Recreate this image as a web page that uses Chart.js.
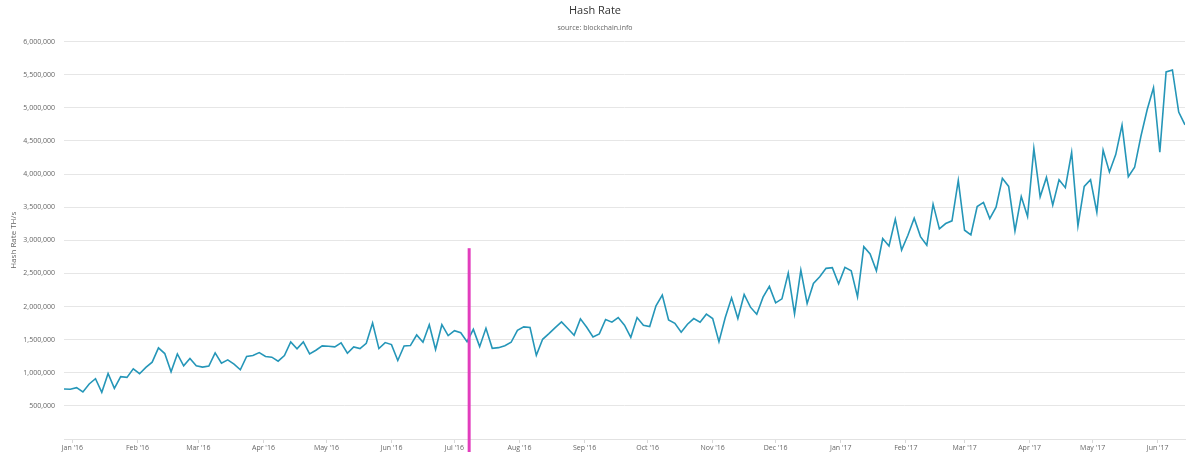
<!DOCTYPE html>
<html>
<head>
<meta charset="utf-8">
<title>Hash Rate</title>
<script src="https://cdn.jsdelivr.net/npm/chart.js@4/dist/chart.umd.min.js"></script>
<style>
  html, body { margin: 0; padding: 0; background: #fff; }
  #wrap { width: 1200px; height: 462px; position: relative; }
</style>
</head>
<body>
<div id="wrap"><canvas id="hashChart"></canvas></div>
<script>
// data: one reading every 3 days from 28 Dec 2015
const startDate = '2015-12-28';
const stepDays = 3;
const hashRate = [
    755000, 750000, 775000, 710000, 830000, 910000, 705000, 990000, 765000, 940000,
    930000, 1060000, 985000, 1080000, 1160000, 1375000, 1290000, 1015000, 1285000, 1105000,
    1215000, 1105000, 1085000, 1100000, 1300000, 1145000, 1195000, 1130000, 1045000, 1245000,
    1260000, 1305000, 1245000, 1235000, 1175000, 1260000, 1465000, 1360000, 1465000, 1285000,
    1340000, 1405000, 1400000, 1390000, 1450000, 1295000, 1390000, 1365000, 1445000, 1750000,
    1365000, 1455000, 1425000, 1185000, 1405000, 1410000, 1570000, 1460000, 1725000, 1350000,
    1725000, 1560000, 1635000, 1605000, 1470000, 1655000, 1394000, 1670000, 1369000, 1379000,
    1409000, 1460000, 1640000, 1692000, 1682000, 1263000, 1505000, 1591000, 1682000, 1768000,
    1667000, 1566000, 1813000, 1687000, 1540000, 1586000, 1803000, 1763000, 1833000, 1717000,
    1535000, 1833000, 1717000, 1697000, 2010000, 2172000, 1798000, 1747000, 1611000, 1732000,
    1818000, 1763000, 1884000, 1818000, 1470000, 1833000, 2131000, 1818000, 2182000, 1990000,
    1884000, 2141000, 2303000, 2055000, 2116000, 2505000, 1889000, 2550000, 2045000, 2348000,
    2449000, 2576000, 2586000, 2343000, 2591000, 2540000, 2146000, 2904000, 2793000, 2540000,
    3025000, 2914000, 3318000, 2853000, 3076000, 3333000, 3055000, 2924000, 3545000, 3172000,
    3252000, 3293000, 3904000, 3151000, 3081000, 3510000, 3571000, 3328000, 3500000, 3934000,
    3813000, 3141000, 3661000, 3358000, 4384000, 3656000, 3949000, 3530000, 3914000, 3793000,
    4328000, 3217000, 3813000, 3914000, 3424000, 4358000, 4030000, 4293000, 4737000, 3959000,
    4101000, 4570000, 4974000, 5303000, 4328000, 5540000, 5570000, 4934000, 4742000
];

const tickDates = ['2016-01-01', '2016-02-01', '2016-03-01', '2016-04-01', '2016-05-01', '2016-06-01',
    '2016-07-01', '2016-08-01', '2016-09-01', '2016-10-01', '2016-11-01', '2016-12-01',
    '2017-01-01', '2017-02-01', '2017-03-01', '2017-04-01', '2017-05-01', '2017-06-01'];
const tickLabels = ["Jan '16", "Feb '16", "Mar '16", "Apr '16", "May '16", "Jun '16",
    "Jul '16", "Aug '16", "Sep '16", "Oct '16", "Nov '16", "Dec '16",
    "Jan '17", "Feb '17", "Mar '17", "Apr '17", "May '17", "Jun '17"];

const yMax = 6000000;
const yStep = 500000;

// pink marker (block reward halving)
const markerDate = '2016-07-08';
const markerTop = 2880000;

const DAY = 86400000;
const dayOf = d => Math.round((Date.parse(d) - Date.parse(startDate)) / DAY);
const points = hashRate.map((v, i) => ({ x: i * stepDays, y: v }));
const tickDays = tickDates.map(dayOf);

Chart.defaults.font.family = "'Open Sans', sans-serif";
Chart.defaults.color = '#666';

const markerPlugin = {
    id: 'marker',
    afterDatasetsDraw(chart) {
        const { ctx, chartArea, scales } = chart;
        const x = scales.x.getPixelForValue(dayOf(markerDate));
        const top = scales.y.getPixelForValue(markerTop);
        ctx.save();
        ctx.strokeStyle = '#e23dbd';
        ctx.lineWidth = 3;
        ctx.beginPath();
        ctx.moveTo(x, top);
        ctx.lineTo(x, chartArea.bottom + 13);
        ctx.stroke();
        ctx.restore();
    }
};

const ctx = document.getElementById('hashChart').getContext('2d');
const hashChart = new Chart(ctx, {
    type: 'line',
    data: {
        datasets: [{
            label: 'Hash Rate',
            data: points,
            borderColor: '#2596b8',
            borderWidth: 1.6,
            pointRadius: 0,
            tension: 0,
            fill: false
        }]
    },
    options: {
        responsive: true,
        maintainAspectRatio: false,
        animation: false,
        layout: { padding: { left: 5, right: 15, top: 0, bottom: 0 } },
        plugins: {
            legend: { display: false },
            tooltip: { enabled: false },
            title: {
                display: true,
                text: 'Hash Rate',
                color: '#333',
                font: { size: 11, weight: 'normal' },
                padding: { top: 4, bottom: 0 }
            },
            subtitle: {
                display: true,
                text: 'source: blockchain.info',
                color: '#666',
                font: { size: 7 },
                padding: { top: 6.6, bottom: 9.3 }
            }
        },
        scales: {
            x: {
                type: 'linear',
                min: 0,
                max: (hashRate.length - 1) * stepDays,
                afterBuildTicks: s => { s.ticks = tickDays.map(v => ({ value: v })); },
                afterFit: s => { s.height = 23; },
                grid: { drawOnChartArea: false, drawTicks: true, tickLength: 4, color: '#d8d8d8' },
                border: { display: true, color: '#e2e2e2' },
                ticks: {
                    autoSkip: false,
                    maxRotation: 0,
                    padding: 1,
                    color: '#666',
                    font: { size: 7 },
                    callback: (v, i) => tickLabels[i]
                }
            },
            y: {
                min: 0,
                max: yMax,
                afterFit: s => { s.width = 59; },
                grid: { color: '#e6e6e6', drawTicks: false },
                border: { display: false },
                ticks: {
                    stepSize: yStep,
                    padding: 9,
                    color: '#666',
                    font: { size: 7 },
                    callback: v => v === 0 ? '' : v.toLocaleString('en-US')
                },
                title: {
                    display: true,
                    text: 'Hash Rate TH/s',
                    color: '#666',
                    font: { size: 8 }
                }
            }
        }
    },
    plugins: [markerPlugin]
});
</script>
</body>
</html>
